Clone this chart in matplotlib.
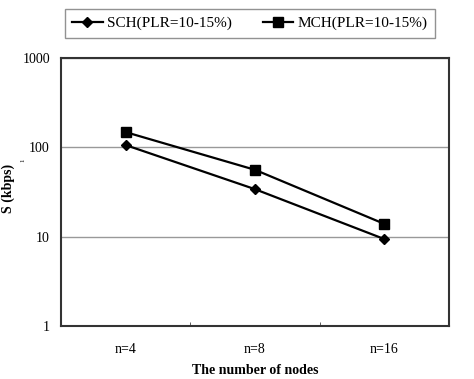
import matplotlib
matplotlib.use('Agg')
from matplotlib import pyplot as plt
import numpy as np

categories = ['n=4', 'n=8', 'n=16']
sch = [106, 34, 9.4]
mch = [148, 56, 13.9]
yticks = [1, 10, 100, 1000]

plt.rcParams['font.family'] = ['Liberation Serif', 'DejaVu Serif']

fig = plt.figure(figsize=(4.74, 3.79), dpi=100)
ax = fig.add_axes([61/474, 1-326/379, 388/474, 268/379])

x = np.arange(len(categories))
l1, = ax.plot(x, sch, color='black', lw=1.6, marker='D', ms=5.5, label='SCH(PLR=10-15%)')
l2, = ax.plot(x, mch, color='black', lw=1.6, marker='s', ms=7, label='MCH(PLR=10-15%)')

ax.set_yscale('log')
ax.set_ylim(1, 1000)
ax.set_yticks(yticks)
ax.set_yticklabels([str(v) for v in yticks], fontsize=10)
ax.minorticks_off()
ax.tick_params(axis='y', length=0, pad=8)
ax.yaxis.grid(True, color='#999999', lw=1)

ax.set_xlim(-0.5, len(categories) - 0.5)
ax.set_xticks(x)
ax.set_xticklabels(categories, fontsize=10)
ax.tick_params(axis='x', length=0, pad=12)
ax.set_xticks(x[:-1] + 0.5, minor=True)
ax.tick_params(axis='x', which='minor', direction='in', length=3, color='#444444')

for s in ax.spines.values():
    s.set_color('#333333')
    s.set_linewidth(1.5)

ax.set_xlabel('The number of nodes', fontsize=10, fontweight='bold', labelpad=6)
ax.set_ylabel('S (kbps)', fontsize=10, fontweight='bold')
ax.yaxis.set_label_coords((15 - 61) / 388, (326 - 188) / 268)
fig.text(23/474, 1-160/379, '1', fontsize=5, rotation=90, ha='center', va='center')

fig.legend(handles=[l1, l2], loc='center', bbox_to_anchor=(250/474, 1-23.5/379),
           ncol=2, fontsize=11, frameon=True, fancybox=False, edgecolor='#777777',
           handlelength=2.0, columnspacing=2.0, handletextpad=0.3, borderpad=0.5)

fig.savefig('out.png', dpi=100)
